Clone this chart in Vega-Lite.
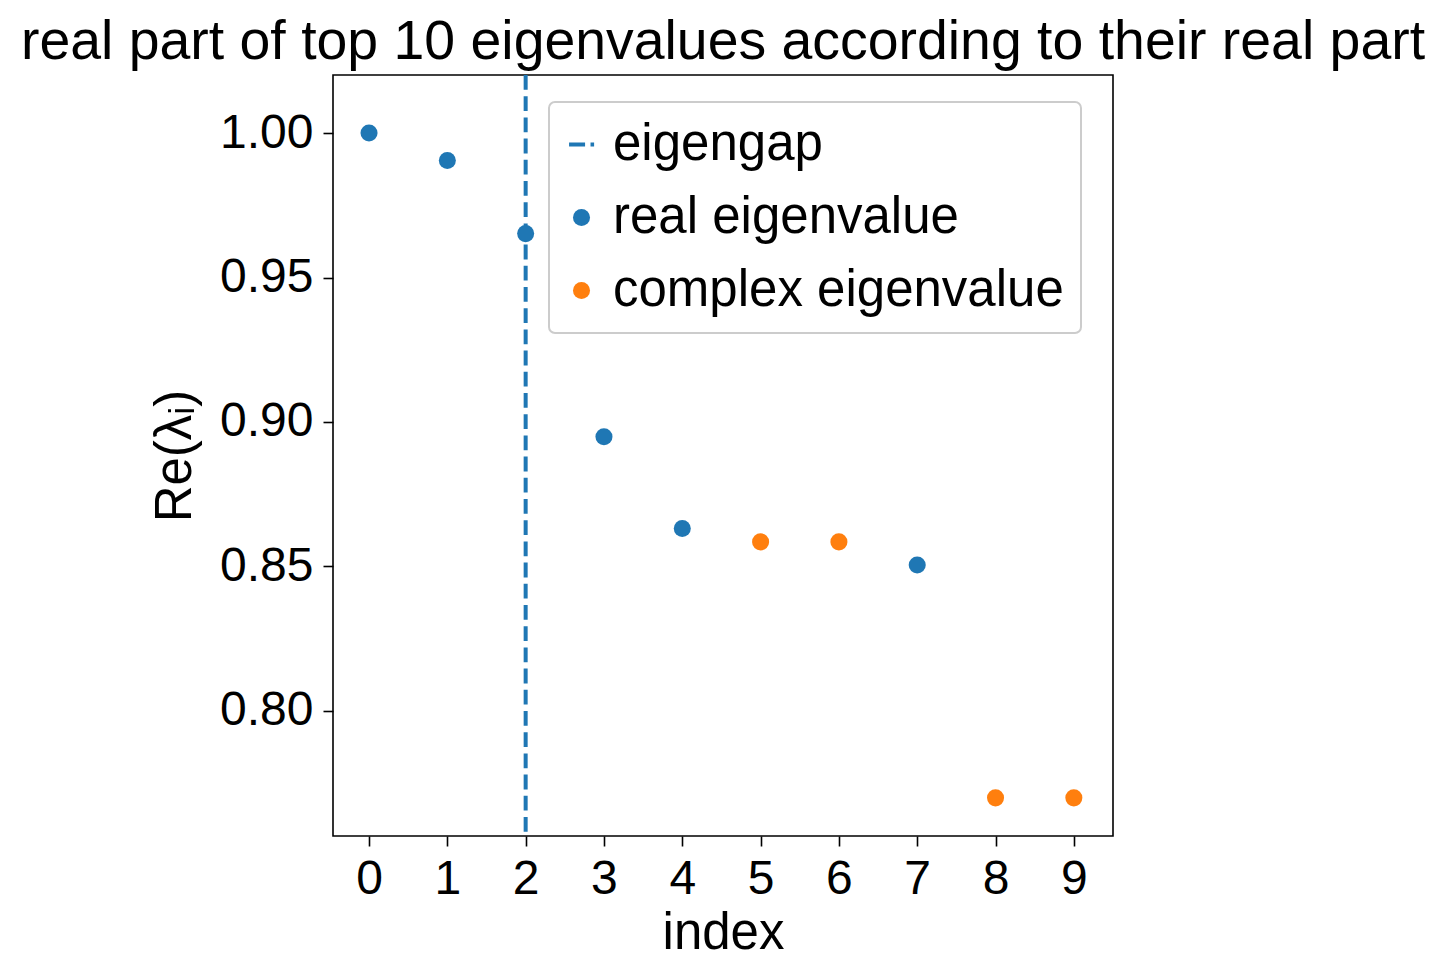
{
  "$schema": "https://vega.github.io/schema/vega-lite/v6.json",
  "description": "Real part of top 10 eigenvalues",
  "width": 780,
  "height": 761,
  "autosize": {"type": "none"},
  "padding": {"left": 333, "top": 75, "right": 332, "bottom": 143},
  "background": "white",
  "title": {
    "text": "real part of top 10 eigenvalues according to their real part",
    "font": "Liberation Sans",
    "fontSize": 55.4,
    "fontWeight": "normal",
    "color": "black",
    "anchor": "middle",
    "frame": "group",
    "baseline": "alphabetic",
    "offset": -41
  },
  "config": {
    "view": {"stroke": "black", "strokeWidth": 1.6},
    "axis": {
      "domain": false,
      "grid": false,
      "tickColor": "black",
      "tickWidth": 1.6,
      "tickSize": 10,
      "labelFont": "Liberation Sans",
      "labelFontSize": 48,
      "labelColor": "black",
      "titleFont": "Liberation Sans",
      "titleFontSize": 51,
      "titleFontWeight": "normal",
      "titleColor": "black"
    },
    "legend": {
      "orient": "none",
      "legendX": 216,
      "legendY": 27,
      "padding": 17,
      "strokeColor": "#cccccc",
      "strokeWidth": 2,
      "fillColor": "white",
      "cornerRadius": 6,
      "labelFont": "Liberation Sans",
      "labelFontSize": 51,
      "labelColor": "black",
      "labelLimit": 0,
      "labelOffset": 6,
      "symbolOffset": -10,
      "rowPadding": 21,
      "symbolSize": 290,
      "symbolStrokeWidth": 0,
      "title": null
    }
  },
  "layer": [
    {
      "data": {"values": [{"index": 2}]},
      "mark": {"type": "rule", "color": "#1f77b4", "strokeWidth": 4, "strokeDash": [14.8, 6.4]},
      "encoding": {
        "x": {"field": "index", "type": "quantitative"}
      }
    },
    {
      "data": {
        "values": [
          {"index": 0, "value": 1.0, "kind": "real eigenvalue"},
          {"index": 1, "value": 0.9905, "kind": "real eigenvalue"},
          {"index": 2, "value": 0.9652, "kind": "real eigenvalue"},
          {"index": 3, "value": 0.8949, "kind": "real eigenvalue"},
          {"index": 4, "value": 0.8631, "kind": "real eigenvalue"},
          {"index": 5, "value": 0.8585, "kind": "complex eigenvalue"},
          {"index": 6, "value": 0.8585, "kind": "complex eigenvalue"},
          {"index": 7, "value": 0.8505, "kind": "real eigenvalue"},
          {"index": 8, "value": 0.7699, "kind": "complex eigenvalue"},
          {"index": 9, "value": 0.7699, "kind": "complex eigenvalue"}
        ]
      },
      "mark": {"type": "point", "filled": true, "size": 290, "opacity": 1},
      "encoding": {
        "x": {
          "field": "index",
          "type": "quantitative",
          "scale": {"domain": [-0.46, 9.5], "nice": false, "zero": false},
          "axis": {
            "title": "index",
            "values": [0, 1, 2, 3, 4, 5, 6, 7, 8, 9],
            "format": "d",
            "labelPadding": 9,
            "titleX": 390,
            "titleY": 112,
            "titleBaseline": "alphabetic"
          }
        },
        "y": {
          "field": "value",
          "type": "quantitative",
          "scale": {"domain": [0.7567, 1.0201], "nice": false, "zero": false},
          "axis": {
            "title": "Re(λᵢ)",
            "values": [0.8, 0.85, 0.9, 0.95, 1.0],
            "format": ".2f",
            "labelPadding": 10,
            "titleX": -143,
            "titleY": 380.5,
            "titleAngle": -90,
            "titleAlign": "center",
            "titleBaseline": "alphabetic"
          }
        },
        "color": {
          "field": "kind",
          "type": "nominal",
          "scale": {
            "domain": ["eigengap", "real eigenvalue", "complex eigenvalue"],
            "range": ["#1f77b4", "#1f77b4", "#ff7f0e"]
          }
        },
        "shape": {
          "field": "kind",
          "type": "nominal",
          "scale": {
            "domain": ["eigengap", "real eigenvalue", "complex eigenvalue"],
            "range": ["M-1.46,-0.235H0.42V0.235H-1.46Z M1.06,-0.235H1.48V0.235H1.06Z", "circle", "circle"]
          }
        }
      }
    }
  ]
}
